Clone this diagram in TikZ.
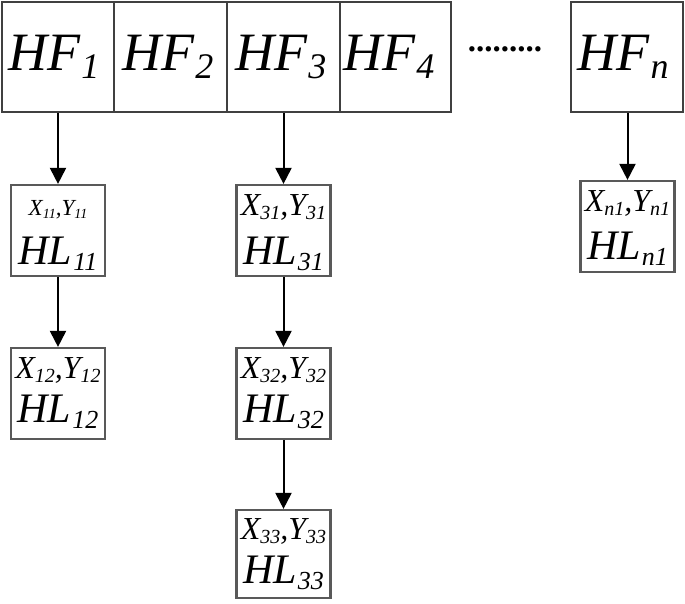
\documentclass[tikz,border=0pt]{standalone}
\usepackage{fontspec}
\setmainfont{Liberation Serif}
\usetikzlibrary{arrows.meta}
\newcommand{\sz}[1]{\fontsize{#1}{#1}\selectfont}
% big label: HF_k
\newcommand{\hflab}[2]{{\itshape\sz{54}#1\kern1pt\raisebox{-8pt}{\sz{36}#2}}}
% HL label
\newcommand{\hllab}[2]{{\itshape\sz{42}#1\kern1pt\raisebox{-6pt}{\sz{26}#2}}}
% coordinate line
\newcommand{\xylab}[3]{{\itshape\sz{#3}X\raisebox{-0.14em}{\sz{\numexpr #3*62/100\relax}#1},Y\raisebox{-0.14em}{\sz{\numexpr #3*62/100\relax}#2}}}
\begin{document}
\begin{tikzpicture}[x=1pt,y=-1pt,
  topbox/.style={draw=black!75,line width=2pt,minimum height=110pt,inner sep=0pt,fill=white},
  hlbox/.style={draw=black!65,line width=2.2pt,minimum width=94pt,inner sep=0pt,fill=white},
  lab/.style={anchor=base,inner sep=0pt},
  conn/.style={-{Triangle[width=16pt,length=16pt]},line width=2pt,black}]
\useasboundingbox (0,0) rectangle (685,603);
\fill[white] (0,0) rectangle (685,603);
% top boxes
\node[topbox,minimum width=112pt] (hf1) at (58,57) {};
\node[topbox,minimum width=113pt] (hf2) at (170.5,57) {};
\node[topbox,minimum width=113pt] (hf3) at (283.5,57) {};
\node[topbox,minimum width=111pt] (hf4) at (395.5,57) {};
\node[topbox,minimum width=112pt] (hfn) at (627,57) {};
\node[lab] (t1) at (54,70) {\hflab{HF}{1}};
\node[lab] (t2) at (168,70) {\hflab{HF}{2}};
\node[lab] (t3) at (281,70) {\hflab{HF}{3}};
\node[lab] (t4) at (389,70) {\hflab{HF}{4}};
\node[lab] (tn) at (623,70) {\hflab{HF}{n}};
\node[lab] (dots) at (505,51) {\bfseries\sz{33}.........};
% small boxes
\node[hlbox,minimum height=91pt] (hl11) at (58,230.5) {};
\node[hlbox,minimum height=91pt] (hl12) at (58,393.5) {};
\node[hlbox,minimum height=91pt] (hl31) at (283.5,230.5) {};
\node[hlbox,minimum height=91pt] (hl32) at (283.5,393.5) {};
\node[hlbox,minimum height=88pt] (hl33) at (283.5,554) {};
\node[hlbox,minimum height=91pt] (hln1) at (627.5,226.5) {};
% texts
\node[lab] (x11) at (58,215) {\xylab{11}{11}{23}};
\node[lab] (l11) at (58,264) {\hllab{HL}{11}};
\node[lab] (x12) at (58,378) {\xylab{12}{12}{32}};
\node[lab] (l12) at (58,422) {\hllab{HL}{12}};
\node[lab] (x31) at (283.5,215) {\xylab{31}{31}{32}};
\node[lab] (l31) at (283.5,264) {\hllab{HL}{31}};
\node[lab] (x32) at (283.5,378) {\xylab{32}{32}{32}};
\node[lab] (l32) at (283.5,422) {\hllab{HL}{32}};
\node[lab] (x33) at (283.5,539) {\xylab{33}{33}{32}};
\node[lab] (l33) at (283.5,583) {\hllab{HL}{33}};
\node[lab] (xn1) at (627.5,211) {\xylab{n1}{n1}{32}};
\node[lab] (ln1) at (627.5,259) {\hllab{HL}{n1}};
% connectors
\draw[conn] (hf1.south) -- (hl11.north);
\draw[conn] (hl11.south) -- (hl12.north);
\draw[conn] (hf3.south) -- (hl31.north);
\draw[conn] (hl31.south) -- (hl32.north);
\draw[conn] (hl32.south) -- (hl33.north);
\draw[conn] (hfn.south -| hln1.north) -- (hln1.north);
\end{tikzpicture}
\end{document}
